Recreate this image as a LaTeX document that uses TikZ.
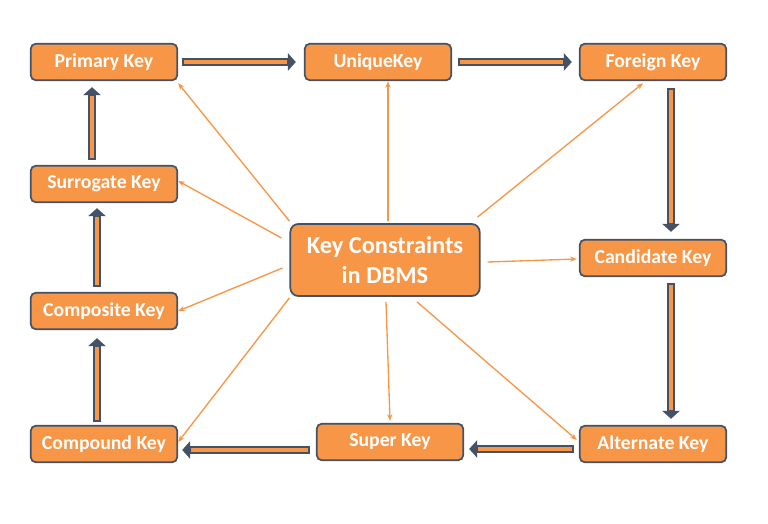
\documentclass[tikz,border=0pt]{standalone}
\usepackage{fontspec}
\setmainfont{Carlito}
\usepackage{xcolor}
\usetikzlibrary{positioning, arrows.meta, calc}

\definecolor{keyorange}{HTML}{F79646}
\definecolor{slate}{HTML}{435266}

\begin{document}
\begin{tikzpicture}[x=0.75pt, y=-0.75pt, >=Stealth,
    keybox/.style={draw=slate, fill=keyorange, line width=1.3pt, rounded corners=4pt,
        minimum width=110pt, minimum height=27.5pt, text=white, font=\bfseries\fontsize{14.8}{16}\selectfont},
    mainbox/.style={keybox, minimum width=142pt, minimum height=54pt, align=center,
        rounded corners=6pt, font=\bfseries\fontsize{18.3}{23}\selectfont},
    flow/.style={draw=slate, line width=6pt, -{Triangle[width=13pt, length=6pt]},
        postaction={draw=keyorange, line width=3pt, -, shorten <=1.4pt, shorten >=6.5pt}},
    link/.style={draw=keyorange, line width=1pt, -{Stealth[length=5pt, width=4pt]}}]
        \useasboundingbox (0,0) rectangle (768,524);

        % Nodes
        \node (kc) [mainbox] at (385,260) {Key Constraints\\in DBMS};
        \node (pk) [keybox] at (104,62) {Primary Key};
        \node (uk) [keybox] at (378,62) {UniqueKey};
        \node (fk) [keybox] at (653,62) {Foreign Key};
        \node (sur) [keybox] at (104,184) {Surrogate Key};
        \node (ck) [keybox] at (653,258) {Candidate Key};
        \node (comp) [keybox] at (104,311) {Composite Key};
        \node (cpd) [keybox] at (104,444) {Compound Key};
        \node (sk) [keybox] at (390,442) {Super Key};
        \node (alt) [keybox] at (653,444) {Alternate Key};

        % Thick arrows round the ring
        \draw[flow] ($(pk.east)+(4,0)$) -- ($(uk.west)+(-8,0)$);
        \draw[flow] ($(uk.east)+(6,0)$) -- ($(fk.west)+(-7,0)$);
        \draw[flow] ($(fk.south)+(18,7)$) -- ($(ck.north)+(18,-7)$);
        \draw[flow] ($(ck.south)+(18,6)$) -- ($(alt.north)+(18,-6)$);
        \draw[flow] ($(alt.west)+(-5,5)$) -- ($(sk.east)+(5,7)$);
        \draw[flow] ($(sk.west)+(-6,8)$) -- ($(cpd.east)+(4,6)$);
        \draw[flow] ($(cpd.north)+(-7,-3)$) -- ($(comp.south)+(-7,8)$);
        \draw[flow] ($(comp.north)+(-7,-5)$) -- ($(sur.south)+(-7,5)$);
        \draw[flow] ($(sur.north)+(-12,-5)$) -- ($(pk.south)+(-12,6)$);

        % Thin arrows from the centre
        \coordinate (u) at ($(kc.north)+(3,-2)$);
        \draw[link] ($(kc.north west)+(0,-2)$) -- ($(pk.south east)+(0,2)$);
        \draw[link] (u) -- (u |- uk.south);
        \draw[link] ($(kc.north east)+(-3,-6)$) -- ($(fk.south)+(-10,2)$);
        \draw[link] ($(kc.west)+(-8,-22)$) -- ($(sur.east)+(0,-3)$);
        \draw[link] ($(kc.east)+(7,2)$) -- ($(ck.west)+(-2,1)$);
        \draw[link] ($(kc.west)+(-7,8)$) -- (comp.east);
        \draw[link] ($(kc.south west)+(0,1)$) -- ($(cpd.east)+(0,-2)$);
        \draw[link] ($(kc.south)+(1,5)$) -- ($(sk.north)+(0,-2)$);
        \draw[link] ($(kc.south)+(32,5)$) -- ($(alt.west)+(-2,-4)$);

    \end{tikzpicture}
\end{document}
